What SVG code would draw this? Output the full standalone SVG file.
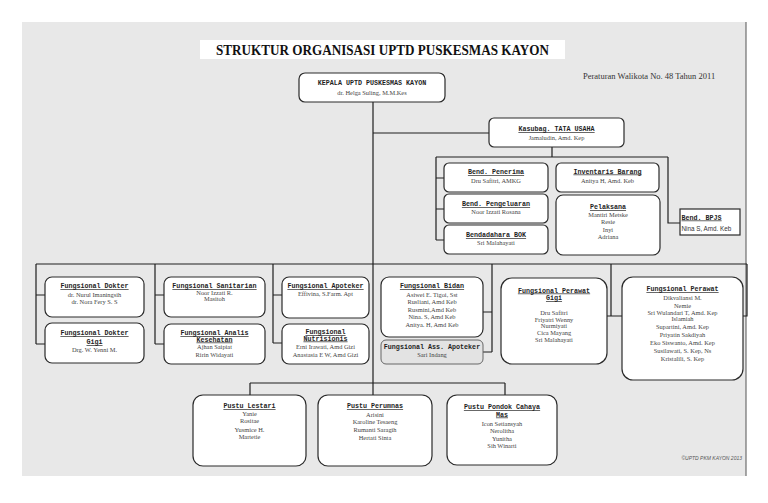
<svg xmlns="http://www.w3.org/2000/svg" width="768" height="503" viewBox="0 0 768 503">
<style>
.bx{fill:#fff;stroke:#2a2a2a;stroke-width:1.2}
.ln{fill:none;stroke:#1e1e1e;stroke-width:1.2}
.h{font-family:"Liberation Mono","DejaVu Sans Mono",monospace;font-weight:bold;fill:#1e1e1e;text-anchor:middle;text-decoration:underline;font-size:6.7px}
.s{font-family:"Liberation Serif","DejaVu Serif",serif;fill:#444;text-anchor:middle;font-size:6.4px}
</style>
<rect x="0" y="0" width="768" height="503" fill="#fff"/>
<rect x="22" y="22" width="724" height="454" fill="#e8e8e8"/>
<line x1="746" y1="22" x2="746" y2="476" stroke="#555" stroke-width="1"/>
<rect x="200" y="40" width="365" height="19" fill="#fff"/>
<text x="382.5" y="55" font-family="Liberation Serif, serif" font-weight="bold" font-size="14" text-anchor="middle" textLength="333" lengthAdjust="spacingAndGlyphs" fill="#111">STRUKTUR ORGANISASI UPTD PUSKESMAS KAYON</text>
<text x="583" y="79" font-family="Liberation Serif, serif" font-size="8.5" fill="#333">Peraturan Walikota No. 48 Tahun 2011</text>
<text x="742" y="460" font-family="Liberation Sans, sans-serif" font-style="italic" font-size="5" fill="#555" text-anchor="end">©UPTD PKM KAYON 2013</text>

<g id="connectors">
<path class="ln" d="M373 102V395"/>
<path class="ln" d="M373 133H489"/>
<path class="ln" d="M552 147V157M436 157H668M436 157V240M436 178H444M436 209H444M436 240H444M668 157V223H680"/>
<path class="ln" d="M36 264H747"/>
<path class="ln" d="M36 264V344M36 295H45M36 344H45"/>
<path class="ln" d="M155 264V344M155 295H164M155 344H164"/>
<path class="ln" d="M273 264V343M273 295H282M273 343H282"/>
<path class="ln" d="M492 264V352M483 312H492M483 352H492"/>
<path class="ln" d="M611 264V316M607 316H622"/>
<path class="ln" d="M747 264V316H743"/>
<path class="ln" d="M250 383H505M250 383V395M505 383V395"/>
</g>

<g id="kepala">
<rect class="bx" x="299" y="73" width="146" height="29" rx="6"/>
<text class="h" x="372" y="85" font-size="7.8" text-decoration="none" style="text-decoration:none">KEPALA UPTD PUSKESMAS KAYON</text>
<text class="s" x="372" y="95" font-size="7.5">dr. Helga Suling, M.M.Kes</text>
</g>

<g id="kasubag">
<rect class="bx" x="489" y="118" width="135" height="29" rx="5"/>
<text class="h" x="556.5" y="131" font-size="7.5">Kasubag. TATA USAHA</text>
<text class="s" x="556.5" y="139.5" font-size="7.3">Jamaludin, Amd. Kep</text>
</g>

<g id="bend-penerima">
<rect class="bx" x="444" y="163" width="104" height="29" rx="5"/>
<text class="h" x="496" y="174">Bend. Penerima</text>
<text class="s" x="496" y="183">Dru Safitri, AMKG</text>
</g>
<g id="bend-pengeluaran">
<rect class="bx" x="444" y="194" width="104" height="29" rx="5"/>
<text class="h" x="496" y="206">Bend. Pengeluaran</text>
<text class="s" x="496" y="213.5">Noor Izzati Rosana</text>
</g>
<g id="bend-bok">
<rect class="bx" x="444" y="225" width="104" height="29" rx="5"/>
<text class="h" x="496" y="237">Bendadahara BOK</text>
<text class="s" x="496" y="244.5">Sri Malahayati</text>
</g>
<g id="inventaris">
<rect class="bx" x="556" y="163" width="103" height="29" rx="5"/>
<text class="h" x="607.5" y="173.5">Inventaris Barang</text>
<text class="s" x="607.5" y="182.5">Anitya H, Amd. Keb</text>
</g>
<g id="pelaksana">
<rect class="bx" x="556" y="195" width="104" height="60" rx="7"/>
<text class="h" x="608" y="209">Pelaksana</text>
<text class="s" x="608" y="216.5">Mantiri Metske</text>
<text class="s" x="608" y="224">Resie</text>
<text class="s" x="608" y="231.5">Inyi</text>
<text class="s" x="608" y="239">Adriana</text>
</g>
<g id="bend-bpjs">
<rect x="680" y="209" width="60" height="26" fill="#fff" stroke="#2a2a2a" stroke-width="1.2"/>
<text class="h" x="681.5" y="219.5" font-size="7.8" style="text-anchor:start">Bend. BPJS</text>
<text x="681.5" y="230.5" font-family="Liberation Sans, sans-serif" font-size="6.3" fill="#333">Nina S, Amd. Keb</text>
</g>

<g id="f-dokter">
<rect class="bx" x="45" y="277" width="99" height="40" rx="7"/>
<text class="h" x="94.5" y="288">Fungsional Dokter</text>
<text class="s" x="94.5" y="296.5">dr. Nurul  Imaningsih</text>
<text class="s" x="94.5" y="304">dr. Nora Fery S. S</text>
</g>
<g id="f-dokter-gigi">
<rect class="bx" x="45" y="323" width="99" height="40" rx="7"/>
<text class="h" x="94.5" y="335">Fungsional Dokter</text>
<text class="h" x="94.5" y="344">Gigi</text>
<text class="s" x="94.5" y="351.5">Drg. W. Yenni M.</text>
</g>
<g id="f-sanitarian">
<rect class="bx" x="164" y="277" width="101" height="40" rx="7"/>
<text class="h" x="214.5" y="288" font-size="6">Fungsional Sanitarian</text>
<text class="s" x="214.5" y="294.5" font-size="6">Noor Izzati R.</text>
<text class="s" x="214.5" y="300.5" font-size="6">Masitoh</text>
</g>
<g id="f-analis">
<rect class="bx" x="164" y="324" width="101" height="40" rx="7"/>
<text class="h" x="214.5" y="335" font-size="6">Fungsional Analis</text>
<text class="h" x="214.5" y="341.5" font-size="6">Kesehatan</text>
<text class="s" x="214.5" y="348.5">Ajhan Saipiat</text>
<text class="s" x="214.5" y="356.5">Ririn Widayati</text>
</g>
<g id="f-apoteker">
<rect class="bx" x="282" y="277" width="87" height="41" rx="7"/>
<text class="h" x="325.5" y="288" font-size="5.9">Fungsional Apoteker</text>
<text class="s" x="325.5" y="295.5" font-size="6">Effivina, S.Farm. Apt</text>
</g>
<g id="f-nutrisionis">
<rect class="bx" x="282" y="324" width="87" height="40" rx="7"/>
<text class="h" x="325.5" y="334" font-size="5.9">Fungsional</text>
<text class="h" x="325.5" y="340.5" font-size="5.9">Nutrisionis</text>
<text class="s" x="325.5" y="349" font-size="6">Erni Irawati, Amd Gizi</text>
<text class="s" x="325.5" y="357" font-size="6">Anastasia E W, Amd Gizi</text>
</g>
<g id="f-bidan">
<rect class="bx" x="381" y="277" width="102" height="60" rx="8"/>
<text class="h" x="432" y="288" font-size="6.3">Fungsional Bidan</text>
<text class="s" x="432" y="296.5" font-size="6.1">Asiwei E. Tigoi, Sst</text>
<text class="s" x="432" y="304" font-size="6.1">Rusliani, Amd Keb</text>
<text class="s" x="432" y="311.5" font-size="6.1">Rusmini,Amd Keb</text>
<text class="s" x="432" y="319" font-size="6.1">Nina. S, Amd Keb</text>
<text class="s" x="432" y="327" font-size="6.1">Anitya. H, Amd Keb</text>
</g>
<g id="f-ass-apoteker">
<rect x="381" y="340" width="102" height="24" rx="5" fill="#e3e3e3" stroke="#666" stroke-width="1"/>
<text class="h" x="432" y="349" font-size="6.1" style="text-decoration:none">Fungsional Ass. Apoteker</text>
<text class="s" x="432" y="356.5" font-size="6">Sari Indang</text>
</g>
<g id="f-perawat-gigi">
<rect class="bx" x="501" y="278" width="106" height="86" rx="11"/>
<text class="h" x="554" y="292.5" font-size="6.8">Fungsional Perawat</text>
<text class="h" x="554" y="300" font-size="6.8">Gigi</text>
<text class="s" x="554" y="315">Dru Safitri</text>
<text class="s" x="554" y="321.5">Friyatri Wenny</text>
<text class="s" x="554" y="328">Nurmiyati</text>
<text class="s" x="554" y="335">Cica Mayang</text>
<text class="s" x="554" y="341.5">Sri Malahayati</text>
</g>
<g id="f-perawat">
<rect class="bx" x="622" y="277" width="121" height="103" rx="11"/>
<text class="h" x="682.5" y="291" font-size="6.8">Fungsional Perawat</text>
<text class="s" x="682.5" y="299.5" font-size="6.6">Dikvaliansi M.</text>
<text class="s" x="682.5" y="307.5" font-size="6.6">Nemie</text>
<text class="s" x="682.5" y="314.5" font-size="6.6">Sri Wulandari T, Amd. Kep</text>
<text class="s" x="682.5" y="320.5" font-size="6.6">Islamiah</text>
<text class="s" x="682.5" y="329" font-size="6.6">Supartini, Amd. Kep</text>
<text class="s" x="682.5" y="336.5" font-size="6.6">Priyatin Sakdiyah</text>
<text class="s" x="682.5" y="344.5" font-size="6.6">Eko Siswanto, Amd. Kep</text>
<text class="s" x="682.5" y="352.5" font-size="6.6">Susilawati, S. Kep, Ns</text>
<text class="s" x="682.5" y="360.5" font-size="6.6">Kristalili, S. Kep</text>
</g>

<g id="pustu-lestari">
<rect class="bx" x="193" y="395" width="113" height="71" rx="10"/>
<text class="h" x="249.5" y="408" font-size="6.8">Pustu Lestari</text>
<text class="s" x="249.5" y="415.5">Yanie</text>
<text class="s" x="249.5" y="423">Rositae</text>
<text class="s" x="249.5" y="431.5">Yusmice H.</text>
<text class="s" x="249.5" y="439">Martetie</text>
</g>
<g id="pustu-perumnas">
<rect class="bx" x="318" y="395" width="114" height="71" rx="10"/>
<text class="h" x="375" y="408" font-size="6.8">Pustu Perumnas</text>
<text class="s" x="375" y="416.5">Arisini</text>
<text class="s" x="375" y="424">Karoline Tesaeng</text>
<text class="s" x="375" y="431.5">Rumanti Saragih</text>
<text class="s" x="375" y="439.5">Hertati Sinta</text>
</g>
<g id="pustu-pondok">
<rect class="bx" x="447" y="395" width="110" height="70" rx="10"/>
<text class="h" x="502" y="409" font-size="6.8">Pustu Pondok Cahaya</text>
<text class="h" x="502" y="416.5" font-size="6.8">Mas</text>
<text class="s" x="502" y="425.5">Icon Setiansyah</text>
<text class="s" x="502" y="433">Nerolitha</text>
<text class="s" x="502" y="441">Yunitha</text>
<text class="s" x="502" y="448">Sih Winarti</text>
</g>
</svg>
